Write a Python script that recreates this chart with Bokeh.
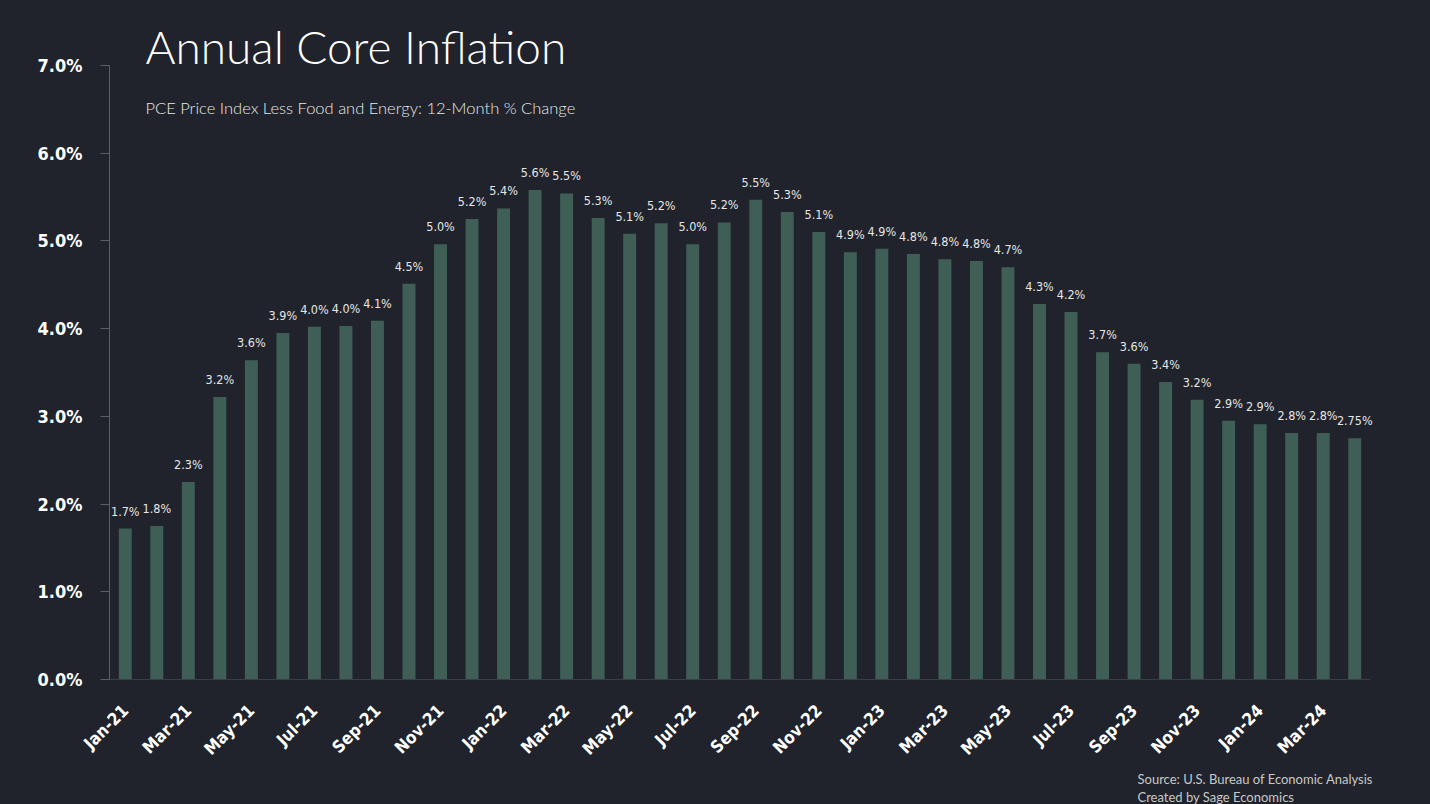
import math
from bokeh.plotting import figure
from bokeh.models import Range1d, FixedTicker, ColumnDataSource, Label, Title
from bokeh.embed import file_html
from bokeh.resources import INLINE
from bokeh.core.properties import value

months = ["Jan-21", "Feb-21", "Mar-21", "Apr-21", "May-21", "Jun-21", "Jul-21", "Aug-21",
          "Sep-21", "Oct-21", "Nov-21", "Dec-21", "Jan-22", "Feb-22", "Mar-22", "Apr-22",
          "May-22", "Jun-22", "Jul-22", "Aug-22", "Sep-22", "Oct-22", "Nov-22", "Dec-22",
          "Jan-23", "Feb-23", "Mar-23", "Apr-23", "May-23", "Jun-23", "Jul-23", "Aug-23",
          "Sep-23", "Oct-23", "Nov-23", "Dec-23", "Jan-24", "Feb-24", "Mar-24", "Apr-24"]
values = [1.72, 1.75, 2.25, 3.22, 3.64, 3.95, 4.02, 4.03, 4.09, 4.51, 4.96, 5.25,
          5.37, 5.58, 5.54, 5.26, 5.08, 5.20, 4.96, 5.21, 5.47, 5.33, 5.10, 4.87,
          4.91, 4.85, 4.79, 4.77, 4.70, 4.28, 4.19, 3.73, 3.60, 3.39, 3.19, 2.95,
          2.91, 2.81, 2.81, 2.75]
value_labels = ["1.7%", "1.8%", "2.3%", "3.2%", "3.6%", "3.9%", "4.0%", "4.0%", "4.1%", "4.5%",
                "5.0%", "5.2%", "5.4%", "5.6%", "5.5%", "5.3%", "5.1%", "5.2%", "5.0%", "5.2%",
                "5.5%", "5.3%", "5.1%", "4.9%", "4.9%", "4.8%", "4.8%", "4.8%", "4.7%", "4.3%",
                "4.2%", "3.7%", "3.6%", "3.4%", "3.2%", "2.9%", "2.9%", "2.8%", "2.8%", "2.75%"]
y_ticks = [0, 1, 2, 3, 4, 5, 6, 7]
y_tick_labels = ["0.0%", "1.0%", "2.0%", "3.0%", "4.0%", "5.0%", "6.0%", "7.0%"]
title_text = "Annual Core Inflation"
subtitle_text = "PCE Price Index Less Food and Energy: 12-Month % Change"
source_lines = ["Source: U.S. Bureau of Economic Analysis", "Created by Sage Economics"]

BG = "#20232b"
BAR = "#3f5f56"
AXIS = "#5b6068"
COND = "DejaVu Sans Condensed"

W, H = 1430, 804
LEFT, BOTTOM = 109, 124
px_per_unit = 615 / 7.0
px_per_cat = 1261 / 40.0
frame_h = H - BOTTOM
y_top = frame_h / px_per_unit
x_end = -0.5 + (W - LEFT) / px_per_cat

xs = list(range(len(months)))
src = ColumnDataSource(dict(x=xs, top=values, lab=value_labels))

p = figure(width=W, height=H, output_backend="svg", toolbar_location=None, title=None,
           x_range=Range1d(-0.5, x_end), y_range=Range1d(0, y_top),
           min_border_left=LEFT, min_border_right=0, min_border_top=0, min_border_bottom=BOTTOM,
           background_fill_color=BG, border_fill_color=BG, outline_line_color=None)
p.styles = {"background-color": BG}

p.vbar(x="x", top="top", bottom=0, width=0.41, source=src, fill_color=BAR, line_color=None)
p.text(x="x", y="top", text="lab", source=src, y_offset=-10, text_align="center",
       text_baseline="bottom", text_color="#e6e6e6", text_font_size="12.5px",
       text_font=value(COND))

p.xgrid.visible = False
p.ygrid.visible = False

ya = p.yaxis[0]
ya.ticker = FixedTicker(ticks=y_ticks)
ya.major_label_overrides = {t: l for t, l in zip(y_ticks, y_tick_labels)}
ya.bounds = (0, 7)
ya.axis_line_color = AXIS
ya.major_tick_line_color = AXIS
ya.major_tick_out = 9
ya.major_tick_in = 0
ya.minor_tick_line_color = None
ya.major_label_standoff = 18
ya.major_label_text_color = "#ffffff"
ya.major_label_text_font = COND
ya.major_label_text_font_size = "18px"
ya.major_label_text_font_style = "bold"

xa = p.xaxis[0]
xa.ticker = FixedTicker(ticks=xs[::2])
xa.major_label_overrides = {i: months[i] for i in xs[::2]}
xa.bounds = (-0.5, len(months) - 0.5)
xa.axis_line_color = "#3a3f47"
xa.major_tick_line_color = None
xa.minor_tick_line_color = None
xa.major_label_orientation = math.pi / 4
xa.major_label_standoff = 22
xa.major_label_text_color = "#ffffff"
xa.major_label_text_font = COND
xa.major_label_text_font_size = "17px"
xa.major_label_text_font_style = "bold"

x_of = lambda px: (px - LEFT) / px_per_cat - 0.5
y_of = lambda py: (680 - py) / px_per_unit

p.add_layout(Label(x=x_of(145), y=y_of(46), text=title_text, text_color="#ffffff",
                   text_font="Lato Light", text_font_size="46px", text_baseline="middle"))
p.add_layout(Label(x=x_of(145), y=y_of(108), text=subtitle_text, text_color="#e8e8e8",
                   text_font="Lato Light", text_font_size="16.5px", text_baseline="middle"))

for line in source_lines:
    t = Title(text=line, align="left", offset=1137 - LEFT, text_color="#c8c8c8",
              text_font="Lato", text_font_size="13px", text_font_style="normal",
              standoff=0)
    p.add_layout(t, "below")

open("out.html", "w").write(file_html(p, INLINE))
